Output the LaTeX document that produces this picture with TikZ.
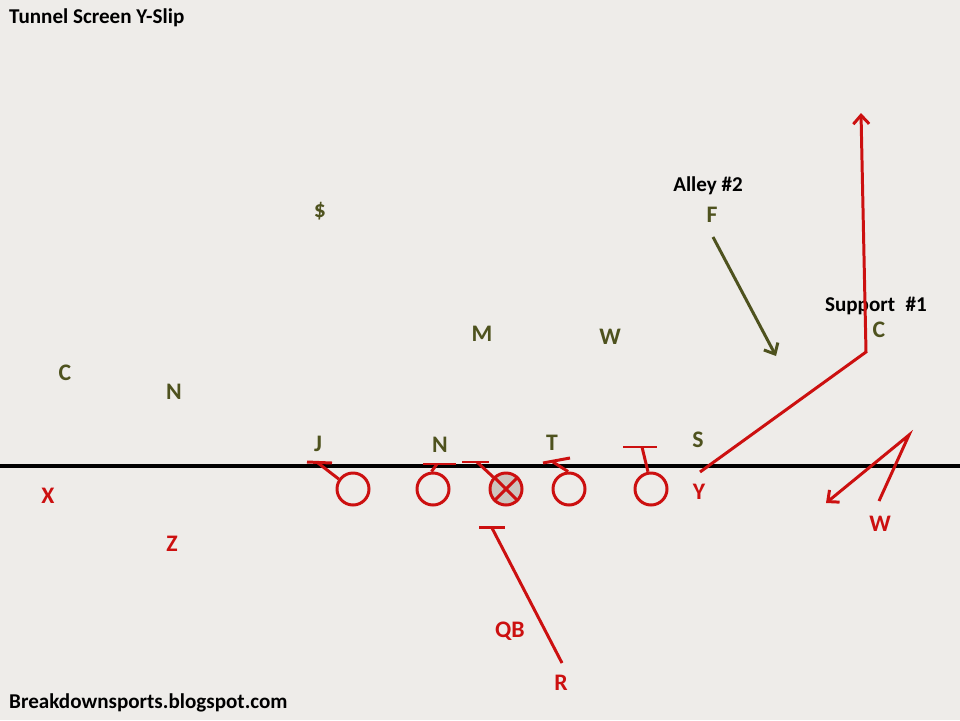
\documentclass[tikz,border=0pt]{standalone}
\usepackage{fontspec}
\setmainfont{Carlito}
\usetikzlibrary{arrows.meta}
\definecolor{bg}{RGB}{238,236,233}
\definecolor{offred}{RGB}{204,16,16}
\definecolor{defgreen}{RGB}{78,82,30}
\definecolor{ctrfill}{RGB}{205,197,190}

\begin{document}
\begin{tikzpicture}[x=0.02cm,y=-0.02cm,
        def/.style={text=defgreen,font=\fontsize{13.5}{14}\selectfont\bfseries},
        off/.style={text=offred,font=\fontsize{13.5}{14}\selectfont\bfseries},
        note/.style={font=\fontsize{12}{14}\selectfont\bfseries},
        lineman/.style={circle,draw=offred,line width=1.7pt,minimum size=0.64cm,inner sep=0pt},
        blk/.style={offred,line width=1.7pt},
        route/.style={offred,line width=1.7pt,-{Straight Barb[length=5pt,width=9pt]}}]
        \fill[bg] (0,0) rectangle (960,720);
        \useasboundingbox (0,0) rectangle (960,720);
        % line of scrimmage
        \coordinate (los1) at (0,466);
        \coordinate (los2) at (960,466);
        \draw[line width=2.3pt] (los1) -- (los2);
        % titles
        \node[note,anchor=west] (title) at (3,18) {Tunnel\ Screen Y-Slip};
        \node[note,anchor=west] (site) at (3,703) {Breakdownsports.blogspot.com};
        \node[note] (alley) at (708,186) {Alley \#2};
        \node[note] (support) at (876,306) {Support\enspace\#1};
        % defense
        \node[def] (dol) at (320,211) {\$};
        \node[def] (mike) at (482,334) {M};
        \node[def] (will) at (610,337) {W};
        \node[def] (cbl) at (65,373) {C};
        \node[def] (nick) at (174,392) {N};
        \node[def] (dj) at (318,444) {J};
        \node[def] (dn) at (440,445) {N};
        \node[def] (dt) at (552,443) {T};
        \node[def] (sam) at (698,440) {S};
        \node[def] (free) at (712,215) {F};
        \node[def] (cbr) at (879,330) {C};
        % offense
        \node[off] (xrec) at (48,496) {X};
        \node[off] (zrec) at (172,544) {Z};
        \node[off] (yrec) at (699,492) {Y};
        \node[off] (wrec) at (880,524) {W};
        \node[off] (qb) at (510,631) {QB};
        \node[off] (rb) at (561,683) {R};
        \node[lineman] (lt) at (353,489) {};
        \node[lineman] (lg) at (433,489) {};
        \node[lineman,fill=ctrfill] (ctr) at (506,489) {};
        \node[lineman] (rg) at (569,489) {};
        \node[lineman] (rtk) at (651,489) {};
        \draw[blk] (ctr.45) -- (ctr.225);
        \draw[blk] (ctr.135) -- (ctr.315);
        % blocks
        \coordinate (ltb) at (318,463);
        \coordinate (lgb) at (437,464);
        \coordinate (ctb) at (477,462);
        \coordinate (rgb) at (553,462);
        \coordinate (rtb) at (642,447);
        \draw[blk] (lt.145) -- (ltb);
        \draw[blk] (307,462) -- (332,463);
        \draw[blk] (lg.95) -- (lgb);
        \draw[blk] (423,464) -- (456,464);
        \draw[blk] (ctr.137) -- (ctb);
        \draw[blk] (462,462) -- (489,462);
        \draw[blk] (rg.93) -- (rgb);
        \draw[blk] (543,463) -- (570,458);
        \draw[blk] (rtk.100) -- (rtb);
        \draw[blk] (623,447) -- (657,447);
        % QB and routes
        \coordinate (qbtop) at (492,528);
        \coordinate (qbend) at (562,663);
        \draw[blk] (qbend) -- (qbtop);
        \draw[blk] (479,527) -- (505,527);
        \coordinate (ys) at (700,472);
        \coordinate (yb) at (866,352);
        \coordinate (ye) at (861,113);
        \draw[route] (ys) -- (yb) -- (ye);
        \coordinate (ws) at (879,501);
        \coordinate (wb) at (909,435);
        \coordinate (we) at (826,503);
        \draw[route] (ws) -- (wb) -- (we);
        \coordinate (fs) at (713,237);
        \coordinate (fe) at (776,356);
        \draw[route,defgreen] (fs) -- (fe);
\end{tikzpicture}
\end{document}
